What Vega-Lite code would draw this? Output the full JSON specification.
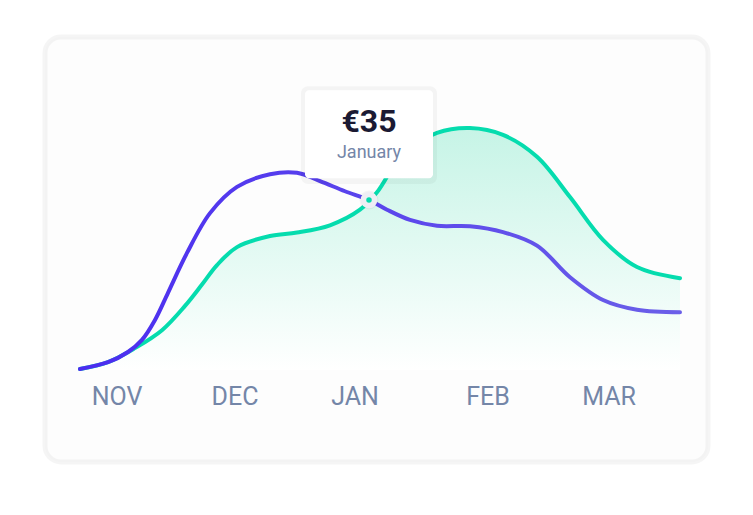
{
  "$schema": "https://vega.github.io/schema/vega-lite/v6.json",
  "width": 663,
  "height": 425,
  "autosize": {"type": "none"},
  "padding": {"left": 45, "top": 37, "right": 45, "bottom": 53},
  "background": "#ffffff",
  "config": {
    "view": {"fill": "#fdfdfd", "stroke": "#000000", "strokeOpacity": 0.04, "strokeWidth": 5, "cornerRadius": 16},
    "font": "Roboto"
  },
  "datasets": {
    "series": [
      {"series": "purple", "x": 0, "v": 0.2},
      {"series": "purple", "x": 28, "v": 1.6},
      {"series": "purple", "x": 48, "v": 3.7},
      {"series": "purple", "x": 62, "v": 6.2},
      {"series": "purple", "x": 75, "v": 10.3},
      {"series": "purple", "x": 88, "v": 15.9},
      {"series": "purple", "x": 107, "v": 24.1},
      {"series": "purple", "x": 130, "v": 32.3},
      {"series": "purple", "x": 157, "v": 37.7},
      {"series": "purple", "x": 190, "v": 40.3},
      {"series": "purple", "x": 217, "v": 40.6},
      {"series": "purple", "x": 240, "v": 38.9},
      {"series": "purple", "x": 265, "v": 36.8},
      {"series": "purple", "x": 289, "v": 35},
      {"series": "purple", "x": 307, "v": 33},
      {"series": "purple", "x": 330, "v": 30.9},
      {"series": "purple", "x": 357, "v": 29.7},
      {"series": "purple", "x": 390, "v": 29.6},
      {"series": "purple", "x": 423, "v": 28.4},
      {"series": "purple", "x": 457, "v": 25.6},
      {"series": "purple", "x": 490, "v": 19.1},
      {"series": "purple", "x": 523, "v": 14.4},
      {"series": "purple", "x": 557, "v": 12.4},
      {"series": "purple", "x": 600, "v": 11.9},
      {"series": "teal", "x": 0, "v": 0.2},
      {"series": "teal", "x": 28, "v": 1.6},
      {"series": "teal", "x": 55, "v": 4.5},
      {"series": "teal", "x": 82, "v": 8.2},
      {"series": "teal", "x": 105, "v": 13.2},
      {"series": "teal", "x": 122, "v": 17.6},
      {"series": "teal", "x": 137, "v": 21.6},
      {"series": "teal", "x": 157, "v": 25.3},
      {"series": "teal", "x": 190, "v": 27.6},
      {"series": "teal", "x": 217, "v": 28.3},
      {"series": "teal", "x": 250, "v": 29.8},
      {"series": "teal", "x": 280, "v": 33.0},
      {"series": "teal", "x": 297, "v": 36.6},
      {"series": "teal", "x": 323, "v": 44.5},
      {"series": "teal", "x": 357, "v": 48.8},
      {"series": "teal", "x": 390, "v": 49.8},
      {"series": "teal", "x": 423, "v": 48.4},
      {"series": "teal", "x": 457, "v": 43.9},
      {"series": "teal", "x": 490, "v": 35.6},
      {"series": "teal", "x": 523, "v": 26.8},
      {"series": "teal", "x": 557, "v": 21.2},
      {"series": "teal", "x": 600, "v": 18.9}
    ],
    "months": [
      {"month": "NOV", "x": 37},
      {"month": "DEC", "x": 155},
      {"month": "JAN", "x": 275},
      {"month": "FEB", "x": 408},
      {"month": "MAR", "x": 529}
    ],
    "tip": [
      {"x": 289, "v": 35, "price": "€35", "label": "January"}
    ]
  },
  "layer": [
    {
      "data": {"name": "series"},
      "transform": [{"filter": "datum.series === 'teal'"}],
      "mark": {
        "type": "area",
        "interpolate": "catmull-rom",
        "fill": {"gradient": "linear", "x1": 0, "y1": 0, "x2": 0, "y2": 1,
          "stops": [{"offset": 0, "color": "#c6f4e6"}, {"offset": 1, "color": "#ffffff"}]}
      },
      "encoding": {
        "x": {"field": "x", "type": "quantitative", "scale": {"domain": [0, 600], "range": [35, 635], "nice": false, "zero": false}, "axis": null},
        "y": {"field": "v", "type": "quantitative", "scale": {"domain": [0, 35], "range": [333, 163], "nice": false, "zero": false}, "axis": null},
        "y2": {"datum": 0}
      }
    },
    {
      "data": {"name": "series"},
      "transform": [{"filter": "datum.series === 'teal'"}],
      "mark": {"type": "line", "interpolate": "catmull-rom", "strokeWidth": 4, "strokeCap": "round", "stroke": "#05dcae"},
      "encoding": {
        "x": {"field": "x", "type": "quantitative"},
        "y": {"field": "v", "type": "quantitative"}
      }
    },
    {
      "data": {"name": "series"},
      "transform": [{"filter": "datum.series === 'purple'"}],
      "mark": {"type": "line", "interpolate": "catmull-rom", "strokeWidth": 4, "strokeCap": "round",
        "stroke": {"gradient": "linear", "x1": 0, "y1": 0, "x2": 1, "y2": 0,
          "stops": [{"offset": 0, "color": "#4b2cf0"}, {"offset": 1, "color": "#6a5fe8"}]}},
      "encoding": {
        "x": {"field": "x", "type": "quantitative"},
        "y": {"field": "v", "type": "quantitative"}
      }
    },
    {
      "data": {"name": "months"},
      "mark": {"type": "text", "fontSize": 25, "color": "#7486a8", "baseline": "middle", "align": "center"},
      "encoding": {
        "x": {"field": "x", "type": "quantitative"},
        "y": {"datum": -5.6},
        "text": {"field": "month"}
      }
    },
    {
      "data": {"name": "tip"},
      "mark": {"type": "circle", "size": 360, "fill": "#000000", "opacity": 0.04},
      "encoding": {
        "x": {"field": "x", "type": "quantitative"},
        "y": {"field": "v", "type": "quantitative"}
      }
    },
    {
      "data": {"name": "tip"},
      "mark": {"type": "circle", "size": 280, "fill": "#eeeef4", "opacity": 1},
      "encoding": {
        "x": {"field": "x", "type": "quantitative"},
        "y": {"field": "v", "type": "quantitative"}
      }
    },
    {
      "data": {"name": "tip"},
      "mark": {"type": "circle", "size": 30, "fill": "#05dcae", "opacity": 1},
      "encoding": {
        "x": {"field": "x", "type": "quantitative"},
        "y": {"field": "v", "type": "quantitative"}
      }
    },
    {
      "data": {"name": "tip"},
      "mark": {"type": "rect", "fill": "#000000", "opacity": 0.035, "cornerRadius": 7},
      "encoding": {
        "x": {"datum": 221}, "x2": {"datum": 357},
        "y": {"datum": 58.4}, "y2": {"datum": 38.3}
      }
    },
    {
      "data": {"name": "tip"},
      "mark": {"type": "rect", "fill": "#ffffff", "cornerRadius": 4},
      "encoding": {
        "x": {"datum": 225}, "x2": {"datum": 353},
        "y": {"datum": 57.6}, "y2": {"datum": 39.5}
      }
    },
    {
      "data": {"name": "tip"},
      "mark": {"type": "text", "fontSize": 32, "fontWeight": "bold", "color": "#1b1a33", "baseline": "middle", "align": "center"},
      "encoding": {
        "x": {"field": "x", "type": "quantitative"},
        "y": {"datum": 51.0},
        "text": {"field": "price"}
      }
    },
    {
      "data": {"name": "tip"},
      "mark": {"type": "text", "fontSize": 18, "color": "#7486a8", "baseline": "middle", "align": "center"},
      "encoding": {
        "x": {"field": "x", "type": "quantitative"},
        "y": {"datum": 44.6},
        "text": {"field": "label"}
      }
    }
  ]
}
